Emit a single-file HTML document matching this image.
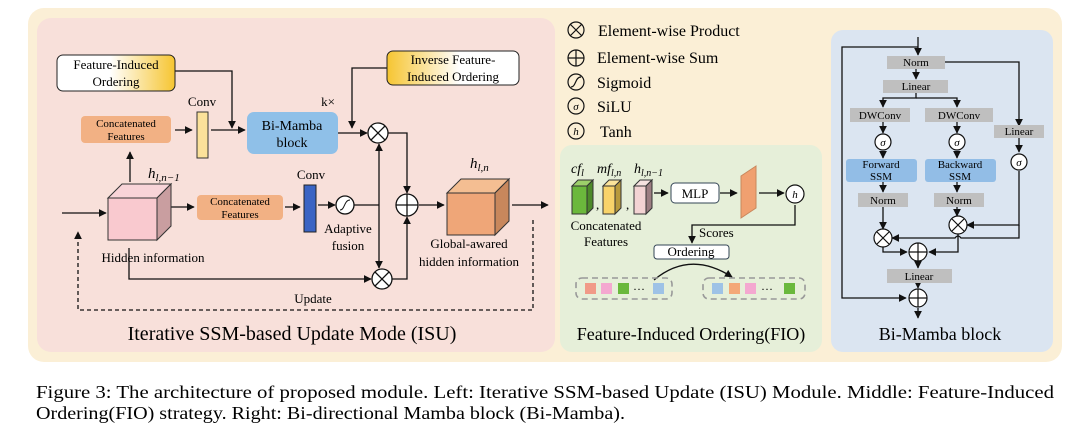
<!DOCTYPE html>
<html><head><meta charset="utf-8"><style>
html,body{margin:0;padding:0;background:#fff;width:1080px;height:430px;overflow:hidden}
svg{display:block;font-family:"Liberation Serif",serif}
</style></head><body>
<svg width="1080" height="430" viewBox="0 0 1080 430" xmlns="http://www.w3.org/2000/svg">
<defs>
<marker id="a" viewBox="0 0 10 10" refX="9" refY="5" markerWidth="6" markerHeight="6" orient="auto"><path d="M0,0L10,5L0,10z" fill="#111"/></marker>
<linearGradient id="yg" x1="0" x2="1"><stop offset="0.45" stop-color="#fff"/><stop offset="1" stop-color="#f6c531"/></linearGradient>
<linearGradient id="yg2" x1="0" x2="1"><stop offset="0" stop-color="#f6c531"/><stop offset="0.55" stop-color="#fff"/></linearGradient>
</defs>
<rect x="28" y="8" width="1034" height="354" rx="16" fill="#fbefd6"/>
<rect x="37" y="18" width="518" height="334" rx="14" fill="#f8e0da"/>
<rect x="560" y="145" width="262" height="207" rx="12" fill="#e6efd9"/>
<rect x="831" y="30" width="222" height="322" rx="12" fill="#dbe5f1"/>
<g stroke="#111" stroke-width="1.3" fill="none">
<path d="M175,71H232V128" marker-end="url(#a)"/>
<path d="M387,68H352V128" marker-end="url(#a)"/>
<path d="M175,130H192" marker-end="url(#a)"/>
<path d="M211,130H245" marker-end="url(#a)"/>
<path d="M338,133H367" marker-end="url(#a)"/>
<path d="M388,133H407V193" marker-end="url(#a)"/>
<path d="M130,182V152" marker-end="url(#a)"/>
<path d="M62,213H106" marker-end="url(#a)"/>
<path d="M170,207H194" marker-end="url(#a)"/>
<path d="M285,207H300" marker-end="url(#a)"/>
<path d="M318,205H335" marker-end="url(#a)"/>
<path d="M354,205H379"/>
<path d="M379,205V144" marker-end="url(#a)"/>
<path d="M379,205V268" marker-end="url(#a)"/>
<path d="M129,248V279H371" marker-end="url(#a)"/>
<path d="M392,279H407V217" marker-end="url(#a)"/>
<path d="M419,205H444" marker-end="url(#a)"/>
<path d="M512,205H548" marker-end="url(#a)"/>
<path d="M533,220V310H78V232" stroke-dasharray="4,3" marker-end="url(#a)"/>
<path d="M654,193H668" marker-end="url(#a)"/>
<path d="M720,193H737" marker-end="url(#a)"/>
<path d="M759,193H784" marker-end="url(#a)"/>
<path d="M795,205V225H692V243" marker-end="url(#a)"/>
<path d="M654,280Q690,250 732,277" marker-end="url(#a)"/>
<path d="M918,37V55" marker-end="url(#a)"/>
<path d="M918,47H842V298H906" marker-end="url(#a)"/>
<path d="M916,69V79" marker-end="url(#a)"/>
<path d="M945,62H1019V126" marker-end="url(#a)"/>
<path d="M916,93V98H883V107" marker-end="url(#a)"/>
<path d="M916,98H957V107" marker-end="url(#a)"/>
<path d="M883,122V133" marker-end="url(#a)"/><path d="M957,122V133" marker-end="url(#a)"/>
<path d="M883,151V158" marker-end="url(#a)"/><path d="M957,151V158" marker-end="url(#a)"/>
<path d="M883,182V192" marker-end="url(#a)"/><path d="M957,182V192" marker-end="url(#a)"/>
<path d="M957,207V216" marker-end="url(#a)"/>
<path d="M883,207V229" marker-end="url(#a)"/>
<path d="M1019,138V152" marker-end="url(#a)"/>
<path d="M1019,171V225H967" marker-end="url(#a)"/>
<path d="M1019,225V238H961Q958,234 955,238H892" marker-end="url(#a)"/>
<path d="M883,247V252H907" marker-end="url(#a)"/>
<path d="M958,234V252H929" marker-end="url(#a)"/>
<path d="M918,262V268" marker-end="url(#a)"/>
<path d="M918,283V288" marker-end="url(#a)"/>
<path d="M918,308V318" marker-end="url(#a)"/>
</g>
<rect x="57" y="55" width="118" height="36" rx="6" fill="url(#yg)" stroke="#222"/>
<text x="116" y="69" font-size="13" text-anchor="middle">Feature-Induced</text>
<text x="116" y="86" font-size="13" text-anchor="middle">Ordering</text>
<rect x="387" y="51" width="132" height="34" rx="6" fill="url(#yg2)" stroke="#222"/>
<text x="453" y="64" font-size="13" text-anchor="middle">Inverse Feature-</text>
<text x="453" y="81" font-size="13" text-anchor="middle">Induced Ordering</text>
<rect x="81" y="116" width="90" height="27" rx="4" fill="#f2b184"/>
<text x="126" y="127" font-size="11" text-anchor="middle">Concatenated</text>
<text x="126" y="140" font-size="11" text-anchor="middle">Features</text>
<rect x="197" y="112" width="11" height="46" fill="#fbe19a" stroke="#333"/>
<text x="202" y="106" font-size="13" text-anchor="middle">Conv</text>
<rect x="247" y="112" width="91" height="42" rx="7" fill="#8fc0e8"/>
<text x="292" y="130" font-size="14" text-anchor="middle">Bi-Mamba</text>
<text x="292" y="147" font-size="14" text-anchor="middle">block</text>
<text x="328" y="106" font-size="13" text-anchor="middle">k×</text>
<polygon points="108,198 122,184 171,184 157,198" fill="#f8d4d8" stroke="#333"/>
<polygon points="157,198 171,184 171,226 157,240" fill="#c99ea0" stroke="#333"/>
<rect x="108" y="198" width="49" height="42" fill="#f9c9cf" stroke="#333"/>
<text x="148" y="178" font-size="15" font-style="italic">h<tspan font-size="11" dy="3">l,n−1</tspan></text>
<text x="153" y="262" font-size="13" text-anchor="middle">Hidden information</text>
<rect x="197" y="195" width="86" height="25" rx="4" fill="#f2b184"/>
<text x="240" y="205" font-size="11" text-anchor="middle">Concatenated</text>
<text x="240" y="218" font-size="11" text-anchor="middle">Features</text>
<rect x="304" y="185" width="12" height="47" fill="#3a64c4" stroke="#222"/>
<text x="311" y="179" font-size="13" text-anchor="middle">Conv</text>
<circle cx="345" cy="205" r="9" fill="#fff" stroke="#111" stroke-width="1.3"/>
<path d="M340,210C345,210 344,200 350,200" stroke="#111" fill="none"/>
<text x="348" y="233" font-size="13" text-anchor="middle">Adaptive</text>
<text x="348" y="250" font-size="13" text-anchor="middle">fusion</text>
<g stroke="#111" stroke-width="1.3" fill="#fff">
<circle cx="378" cy="133" r="10"/><path d="M371,126L385,140M385,126L371,140"/>
<circle cx="382" cy="279" r="10"/><path d="M375,272L389,286M389,272L375,286"/>
<circle cx="407" cy="205" r="11"/><path d="M396,205H418M407,194V216"/>
</g>
<polygon points="447,193 461,179 509,179 495,193" fill="#f4be92" stroke="#333"/>
<polygon points="495,193 509,179 509,221 495,235" fill="#c8875c" stroke="#333"/>
<rect x="447" y="193" width="48" height="42" fill="#efa678" stroke="#333"/>
<text x="470" y="168" font-size="15" font-style="italic">h<tspan font-size="11" dy="3">l,n</tspan></text>
<text x="469" y="248" font-size="13" text-anchor="middle">Global-awared</text>
<text x="469" y="266" font-size="13" text-anchor="middle">hidden information</text>
<text x="313" y="303" font-size="13" text-anchor="middle">Update</text>
<text x="292" y="340" font-size="20" text-anchor="middle">Iterative SSM-based Update Mode (ISU)</text>
<g stroke="#111" stroke-width="1.2" fill="none">
<circle cx="576" cy="30" r="8"/><path d="M570,24L582,36M582,24L570,36"/>
<circle cx="576" cy="58" r="8"/><path d="M568,58H584M576,50V66"/>
<circle cx="576" cy="82" r="8"/><path d="M571,87C576,87 575,77 581,77"/>
<circle cx="576" cy="106" r="8"/><circle cx="576" cy="131" r="8"/>
</g>
<text x="576" y="110" font-size="11" font-style="italic" text-anchor="middle">σ</text>
<text x="576" y="135" font-size="11" font-style="italic" text-anchor="middle">h</text>
<g font-size="16"><text x="598" y="36">Element-wise Product</text><text x="597" y="63">Element-wise Sum</text><text x="597" y="88">Sigmoid</text><text x="597" y="112">SiLU</text><text x="600" y="137">Tanh</text></g>
<polygon points="572,186 578,180 593,180 587,186" fill="#9ccf6a" stroke="#333"/>
<polygon points="587,186 593,180 593,208 587,214" fill="#4d8a2a" stroke="#333"/>
<rect x="572" y="186" width="15" height="28" fill="#6bb83c" stroke="#333"/>
<polygon points="603,186 609,180 621,180 615,186" fill="#fbe39a" stroke="#333"/>
<polygon points="615,186 621,180 621,208 615,214" fill="#b89a3c" stroke="#333"/>
<rect x="603" y="186" width="12" height="28" fill="#f8d36a" stroke="#333"/>
<polygon points="634,186 640,180 652,180 646,186" fill="#f6e2e0" stroke="#333"/>
<polygon points="646,186 652,180 652,208 646,214" fill="#9c7e82" stroke="#333"/>
<rect x="634" y="186" width="12" height="28" fill="#f3d3d3" stroke="#333"/>
<text x="596" y="209" font-size="13">,</text><text x="626" y="209" font-size="13">,</text>
<text x="571" y="173" font-size="14" font-style="italic">cf<tspan font-size="10" dy="3">l</tspan></text>
<text x="597" y="173" font-size="14" font-style="italic">mf<tspan font-size="10" dy="3">l,n</tspan></text>
<text x="634" y="173" font-size="14" font-style="italic">h<tspan font-size="10" dy="3">l,n−1</tspan></text>
<text x="606" y="230" font-size="13" text-anchor="middle">Concatenated</text>
<text x="606" y="246" font-size="13" text-anchor="middle">Features</text>
<rect x="671" y="183" width="48" height="20" rx="4" fill="#fff" stroke="#345"/>
<text x="695" y="198" font-size="13" text-anchor="middle">MLP</text>
<polygon points="741,176 756,166 756,208 741,218" fill="#f0a070" stroke="#c8875c"/>
<circle cx="795" cy="194" r="9" fill="#fff" stroke="#111" stroke-width="1.2"/>
<text x="795" y="198" font-size="11" font-style="italic" text-anchor="middle">h</text>
<text x="699" y="237" font-size="13">Scores</text>
<rect x="654" y="245" width="75" height="14" rx="3" fill="#fff" stroke="#345"/>
<text x="691" y="256" font-size="13" text-anchor="middle">Ordering</text>
<rect x="576" y="278" width="96" height="21" rx="6" fill="none" stroke="#999" stroke-width="1.6" stroke-dasharray="6,4"/>
<rect x="703" y="278" width="102" height="21" rx="6" fill="none" stroke="#999" stroke-width="1.6" stroke-dasharray="6,4"/>
<rect x="585" y="283" width="11" height="11" fill="#f19a88"/><rect x="601" y="283" width="11" height="11" fill="#f4a8d0"/><rect x="618" y="283" width="11" height="11" fill="#6ab83c"/><text x="633" y="293" font-size="12">···</text><rect x="653" y="283" width="11" height="11" fill="#9ec2e6"/>
<rect x="712" y="283" width="11" height="11" fill="#9ec2e6"/><rect x="729" y="283" width="11" height="11" fill="#f4a878"/><rect x="745" y="283" width="11" height="11" fill="#f4a8d0"/><text x="761" y="293" font-size="12">···</text><rect x="784" y="283" width="11" height="11" fill="#6ab83c"/>
<text x="691" y="340" font-size="18" text-anchor="middle">Feature-Induced Ordering(FIO)</text>
<g fill="#bfbfbf"><rect x="887" y="56" width="58" height="13"/><rect x="883" y="80" width="65" height="13"/><rect x="850" y="108" width="60" height="14"/><rect x="925" y="108" width="68" height="14"/><rect x="858" y="193" width="50" height="14"/><rect x="934" y="193" width="50" height="14"/><rect x="994" y="125" width="50" height="13"/><rect x="887" y="269" width="65" height="14"/></g>
<rect x="846" y="159" width="71" height="23" rx="3" fill="#92bde6"/><rect x="925" y="159" width="71" height="23" rx="3" fill="#92bde6"/>
<g font-size="11" text-anchor="middle"><text x="916" y="66">Norm</text><text x="916" y="90">Linear</text><text x="880" y="119">DWConv</text><text x="959" y="119">DWConv</text><text x="883" y="204">Norm</text><text x="959" y="204">Norm</text><text x="1019" y="135">Linear</text><text x="919" y="280">Linear</text>
<text x="881" y="168">Forward</text><text x="881" y="180">SSM</text><text x="960" y="168">Backward</text><text x="960" y="180">SSM</text></g>
<g stroke="#111" stroke-width="1.2" fill="#fff">
<circle cx="883" cy="142" r="8"/><circle cx="957" cy="142" r="8"/><circle cx="1019" cy="162" r="8"/>
<circle cx="958" cy="225" r="9"/><path d="M952,219L964,231M964,219L952,231"/>
<circle cx="883" cy="238" r="9"/><path d="M877,232L889,244M889,232L877,244"/>
<circle cx="918" cy="252" r="9"/><path d="M909,252H927M918,243V261"/>
<circle cx="918" cy="298" r="9"/><path d="M909,298H927M918,289V307"/>
</g>
<g font-size="11" font-style="italic" text-anchor="middle"><text x="883" y="146">σ</text><text x="957" y="146">σ</text><text x="1019" y="166">σ</text></g>
<text x="940" y="340" font-size="18" text-anchor="middle">Bi-Mamba block</text>
<text x="36" y="398" font-size="18" textLength="1018" lengthAdjust="spacingAndGlyphs">Figure 3: The architecture of proposed module. Left: Iterative SSM-based Update (ISU) Module. Middle: Feature-Induced</text>
<text x="36" y="419" font-size="18" textLength="589" lengthAdjust="spacingAndGlyphs">Ordering(FIO) strategy. Right: Bi-directional Mamba block (Bi-Mamba).</text>
</svg>
</body></html>
